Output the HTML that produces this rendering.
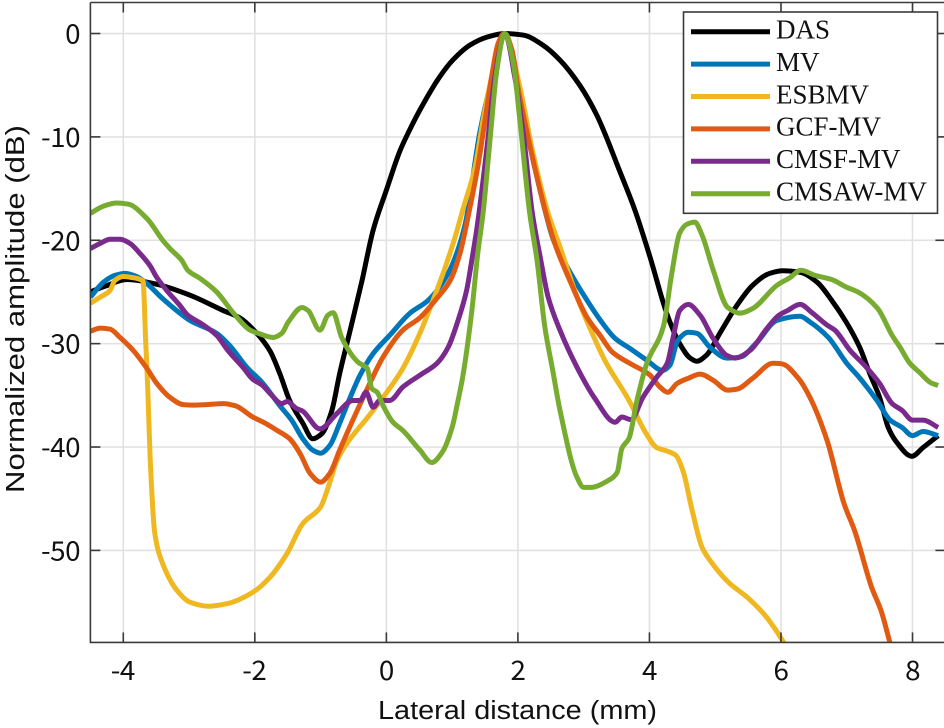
<!DOCTYPE html>
<html lang="en">
<head>
<meta charset="utf-8">
<title>Normalized amplitude vs lateral distance</title>
<style>
html,body{margin:0;padding:0;background:#fff;width:944px;height:728px;overflow:hidden}
svg{display:block}
.tick{font-family:"Noto Sans CJK JP","Liberation Sans",sans-serif;font-size:27px;letter-spacing:-0.5px;fill:#111}
.axt{font-family:"Liberation Sans",sans-serif;font-size:25.5px;fill:#111}
.leg{font-family:"Liberation Serif",serif;font-size:27px;fill:#111}
</style>
</head>
<body>
<svg id="chart" xmlns="http://www.w3.org/2000/svg" width="944" height="728" viewBox="0 0 944 728"></svg>
<script>
const xTicks = [-4, -2, 0, 2, 4, 6, 8];
const yTicks = [0, -10, -20, -30, -40, -50];
const xLabel = "Lateral distance (mm)";
const yLabel = "Normalized amplitude (dB)";
const seriesNames = ["DAS", "MV", "ESBMV", "GCF-MV", "CMSF-MV", "CMSAW-MV"];

const dasX = [-4.5,-4.28,-3.94,-3.49,-2.99,-2.48,-2.23,-1.97,-1.77,-1.62,-1.47,-1.27,-1.12,-0.98,-0.83,-0.71,-0.55,-0.37,-0.2,0,0.21,0.33,0.51,0.81,1.01,1.27,1.53,1.8,2.08,2.38,2.64,2.94,3.2,3.35,3.51,3.78,4.01,4.27,4.46,4.62,4.72,4.87,5.07,5.33,5.57,5.83,6.03,6.29,6.55,6.77,7,7.2,7.35,7.5,7.63,7.76,7.99,8.16,8.39];
const dasY = [-25,-24.45,-23.8,-24.26,-25.3,-26.8,-27.5,-29,-30.7,-32.9,-35.5,-37.7,-39.2,-38.7,-36.5,-32.9,-28.7,-23.9,-19,-15.16,-11.3,-9.64,-7.4,-4.2,-2.57,-1.12,-0.35,0,-0.15,-1.12,-2.57,-5,-7.9,-10.1,-12.7,-17.1,-21.65,-27.2,-30,-31.4,-31.7,-31.1,-29,-26.3,-24.35,-23.2,-22.95,-23.1,-24.06,-25.8,-28,-30.4,-32.9,-35.2,-38.1,-39.55,-40.9,-40.05,-38.9];

const mvX = [-4.5,-4.3,-4.13,-3.97,-3.8,-3.64,-3.41,-3.14,-2.99,-2.58,-2.38,-2.12,-1.89,-1.62,-1.44,-1.27,-1.12,-1,-0.86,-0.71,-0.55,-0.4,-0.2,0.05,0.36,0.62,0.74,0.94,1.07,1.2,1.42,1.58,1.8,2.0,2.14,2.29,2.44,2.53,2.75,3.05,3.25,3.48,3.7,3.96,4.2,4.31,4.43,4.59,4.72,4.92,5.18,5.38,5.63,5.94,6.29,6.44,6.72,7,7.2,7.46,7.66,7.84,8,8.16,8.39];
const mvY = [-25.5,-24.05,-23.4,-23.2,-23.5,-24.2,-25.6,-27.05,-27.75,-29,-30.2,-32.3,-33.75,-36,-37.4,-39.2,-40.3,-40.6,-39.85,-37.7,-35.2,-33.05,-30.95,-29.2,-27.05,-25.9,-25.1,-23.2,-21.25,-18.4,-9.6,-5,0,-5.2,-9.6,-13.9,-17.8,-19.8,-22.6,-25.8,-27.7,-29.5,-30.45,-31.6,-32.6,-32.1,-29.7,-28.9,-29,-30.35,-31.4,-31.3,-29.9,-27.75,-27.35,-27.9,-29.4,-31.9,-33.35,-35.5,-37.4,-38.1,-38.9,-38.5,-38.9];

const esbmvX = [-4.5,-4.35,-4.2,-4.13,-4,-3.87,-3.7,-3.66,-3.63,-3.59,-3.52,-3.4,-3.18,-2.99,-2.71,-2.42,-2.03,-1.77,-1.51,-1.27,-1,-0.89,-0.75,-0.6,-0.28,-0.05,0.25,0.51,0.71,0.89,1.04,1.16,1.35,1.47,1.6,1.73,1.8,2.03,2.23,2.46,2.64,2.9,3.2,3.32,3.69,3.95,4.11,4.27,4.4,4.51,4.65,4.8,4.96,5.22,5.48,5.76,5.91,6.05];
const esbmvY = [-26.1,-25.5,-24.85,-23.9,-23.5,-23.6,-23.95,-29.7,-34,-41.3,-48.4,-51.3,-53.9,-55,-55.4,-55.15,-54.05,-52.6,-50.3,-47.4,-45.8,-44,-41.3,-39.65,-37.1,-35.2,-32.4,-29,-25.8,-22.7,-19.8,-17.1,-12.9,-8.4,-4.2,-0.6,0,-5.2,-11.6,-17.4,-20.65,-25.5,-30,-31.6,-35.5,-38.7,-40.05,-40.4,-40.8,-42.3,-46.15,-49.7,-51.3,-53.2,-54.5,-56.3,-57.6,-59];

const gcfX = [-4.5,-4.35,-4.2,-4.05,-3.85,-3.64,-3.49,-3.29,-3.09,-2.94,-2.73,-2.48,-2.3,-2.03,-1.87,-1.66,-1.47,-1.31,-1.16,-1,-0.86,-0.71,-0.51,-0.3,-0.05,0.25,0.51,0.77,0.97,1.12,1.24,1.39,1.5,1.6,1.7,1.79,1.91,2,2.14,2.29,2.43,2.56,2.79,3.05,3.25,3.44,3.7,4.01,4.16,4.28,4.42,4.59,4.77,4.97,5.19,5.33,5.57,5.88,6.01,6.27,6.44,6.7,6.96,7.12,7.38,7.52,7.66];
const gcfY = [-28.8,-28.5,-28.6,-29.4,-30.65,-32.4,-33.85,-35.2,-35.9,-35.95,-35.9,-35.8,-36,-37.1,-37.6,-38.4,-39.2,-40.65,-42.55,-43.4,-42.55,-40.3,-37.4,-34.5,-31.3,-28.7,-27.5,-25.6,-23.9,-21.25,-17.8,-12.9,-8.4,-4.2,-0.95,0,-1.6,-5.2,-9.6,-13.9,-17.5,-20.3,-23.9,-27.45,-29.2,-30.85,-31.9,-33.05,-34.2,-34.7,-33.85,-33.35,-32.95,-33.55,-34.5,-34.4,-33.35,-31.9,-31.95,-33.4,-35.2,-39.35,-45.5,-48.1,-53.6,-55.8,-59];

const cmsfX = [-4.5,-4.35,-4.2,-4.05,-3.9,-3.75,-3.6,-3.49,-3.34,-3.14,-3.02,-2.83,-2.58,-2.41,-2.18,-2.03,-1.89,-1.77,-1.59,-1.51,-1.36,-1.28,-1.01,-0.75,-0.51,-0.4,-0.31,-0.2,-0.1,0.05,0.25,0.51,0.77,0.94,1.09,1.22,1.3,1.38,1.53,1.65,1.77,1.8,1.96,2.08,2.22,2.34,2.46,2.64,2.9,3.16,3.48,3.58,3.72,3.9,4.11,4.27,4.36,4.46,4.59,4.77,4.97,5.18,5.3,5.53,5.79,5.97,6.1,6.29,6.47,6.7,6.82,7.05,7.3,7.5,7.69,7.84,8,8.16,8.39];
const cmsfY = [-20.8,-20.3,-19.9,-19.9,-20.3,-21.25,-22.4,-23.6,-24.85,-26.3,-27.25,-28,-29.2,-30.65,-32.3,-33.45,-34,-34.8,-35.8,-35.6,-36.3,-36.5,-38.25,-36.75,-35.5,-35.5,-34.7,-36.15,-35.5,-35.5,-34.2,-33.05,-31.9,-30.35,-27.75,-24.85,-21.9,-18.7,-11,-4.2,-0.35,0,-4.5,-9.6,-17.4,-21.65,-25.5,-28.7,-32.3,-35.2,-37.6,-37.1,-37.35,-35.2,-33.25,-31.9,-29.4,-26.8,-26.2,-27.25,-29.5,-31.15,-31.4,-30.65,-28.5,-27.25,-26.8,-26.2,-27,-28.2,-28.7,-30.65,-32.3,-33.85,-35.8,-36.45,-37.4,-37.4,-38.1];

const cmsawX = [-4.5,-4.3,-4.1,-3.93,-3.64,-3.4,-3.29,-3.11,-3.02,-2.83,-2.58,-2.33,-2.07,-1.95,-1.72,-1.59,-1.49,-1.28,-1.19,-1.01,-0.89,-0.81,-0.68,-0.43,-0.29,-0.22,-0.14,-0.05,0.1,0.25,0.51,0.69,0.85,1,1.09,1.16,1.3,1.39,1.47,1.58,1.68,1.8,1.93,2.03,2.18,2.29,2.41,2.53,2.64,2.9,3,3.11,3.37,3.51,3.58,3.69,3.81,3.96,4.21,4.34,4.46,4.57,4.69,4.8,4.97,5.19,5.38,5.57,5.94,6.14,6.3,6.52,6.77,7,7.17,7.47,7.69,7.81,7.96,8.11,8.27,8.39];
const cmsawY = [-17.4,-16.7,-16.4,-16.5,-17.9,-20,-20.8,-21.95,-22.9,-23.7,-25,-27,-28.7,-29,-29.4,-29,-27.9,-26.5,-26.8,-28.7,-27.25,-27,-29.4,-31.8,-32.4,-34.35,-34.7,-36,-37.6,-38.4,-40.3,-41.5,-40.5,-38.1,-35.5,-33.25,-26.8,-21.25,-17.4,-10,-3.55,0,-2.9,-8.4,-17.4,-21.9,-28.4,-32.6,-36.45,-42.95,-43.9,-43.9,-43.25,-42.45,-40.15,-39.15,-35.5,-31.9,-28.4,-23.2,-19.3,-18.45,-18.25,-19.5,-22.9,-26.5,-27.05,-26.6,-24.35,-23.6,-22.9,-23.4,-23.8,-24.55,-25,-26.6,-29.2,-30.35,-31.9,-32.8,-33.75,-34.05];

const xDomain = [-4.5, 8.5];
const yDomain = [-58.9, 3];
const plotLeft = 90.4, plotRight = 945.4, plotTop = 2.5, plotBottom = 642.4;
const sx = v => plotLeft + (v - xDomain[0]) / (xDomain[1] - xDomain[0]) * (plotRight - plotLeft);
const sy = v => plotBottom - (v - yDomain[0]) / (yDomain[1] - yDomain[0]) * (plotBottom - plotTop);

const NS = "http://www.w3.org/2000/svg";
const svg = document.getElementById("chart");
function mk(tag, attrs, parent) {
  const e = document.createElementNS(NS, tag);
  for (const k in attrs) e.setAttribute(k, attrs[k]);
  (parent || svg).appendChild(e);
  return e;
}

/* monotone cubic path through screen points */
function smoothPath(px, py) {
  const n = px.length, m = [], t = new Array(n);
  for (let i = 0; i < n - 1; i++) m.push((py[i + 1] - py[i]) / (px[i + 1] - px[i]));
  t[0] = m[0];
  t[n - 1] = m[n - 2];
  for (let i = 1; i < n - 1; i++) {
    if (m[i - 1] * m[i] <= 0) { t[i] = 0; continue; }
    const h0 = px[i] - px[i - 1], h1 = px[i + 1] - px[i];
    t[i] = 3 * (h0 + h1) / ((2 * h1 + h0) / m[i - 1] + (h1 + 2 * h0) / m[i]);
  }
  let d = "M" + px[0].toFixed(2) + " " + py[0].toFixed(2);
  for (let i = 0; i < n - 1; i++) {
    const h = (px[i + 1] - px[i]) / 3;
    d += " C" + (px[i] + h).toFixed(2) + " " + (py[i] + t[i] * h).toFixed(2) + " " +
         (px[i + 1] - h).toFixed(2) + " " + (py[i + 1] - t[i + 1] * h).toFixed(2) + " " +
         px[i + 1].toFixed(2) + " " + py[i + 1].toFixed(2);
  }
  return d;
}

const defs = mk("defs", {});
const clip = mk("clipPath", {id: "plot-clip"}, defs);
mk("rect", {x: plotLeft, y: plotTop, width: plotRight - plotLeft, height: plotBottom - plotTop}, clip);

const gridColor = "#e2e2e2", axisColor = "#3a3a3a";

xTicks.forEach(t => {
  const l = mk("line", {x1: sx(t), x2: sx(t), y1: plotTop, y2: plotBottom, stroke: gridColor, "stroke-width": 1.6});
  
  
});
yTicks.forEach(t => {
  const l = mk("line", {x1: plotLeft, x2: plotRight, y1: sy(t), y2: sy(t), stroke: gridColor, "stroke-width": 1.6});
  
  
});

const seriesX = [dasX, mvX, esbmvX, gcfX, cmsfX, cmsawX];
const seriesY = [dasY, mvY, esbmvY, gcfY, cmsfY, cmsawY];
const colors = ["#000000", "#0076BA", "#EFB821", "#E05A12", "#7A2A8C", "#77AC30"];
const linesGroup = mk("g", {"clip-path": "url(#plot-clip)"});


seriesNames.forEach((name, i) => {
  const d = smoothPath(seriesX[i].map(sx), seriesY[i].map(sy));
  const p = mk("path", {d: d, fill: "none", stroke: colors[i], "stroke-width": 5, "stroke-linejoin": "round", "stroke-linecap": "butt"}, linesGroup);
  
  
});

const spine = mk("path", {d: `M${plotLeft} ${plotTop} H${plotRight} M${plotLeft} ${plotTop} V${plotBottom} H${plotRight}`, fill: "none", stroke: axisColor, "stroke-width": 1.6});



const tickStretch = 1.03;
xTicks.forEach(t => {
  const a = mk("line", {x1: sx(t), x2: sx(t), y1: plotBottom, y2: plotBottom - 10, stroke: axisColor, "stroke-width": 1.6});
  
  
  const b = mk("line", {x1: sx(t), x2: sx(t), y1: plotTop, y2: plotTop + 10, stroke: axisColor, "stroke-width": 1.6});
  
  
  const label = mk("text", {transform: `translate(${sx(t) - (t < 0 ? 0.5 : 0)} 680) scale(${tickStretch} 1)`, "text-anchor": "middle", class: "tick"});
  label.textContent = String(t);
  
  
});
yTicks.forEach(t => {
  const a = mk("line", {x1: plotLeft, x2: plotLeft + 10, y1: sy(t), y2: sy(t), stroke: axisColor, "stroke-width": 1.6});
  
  
  const b = mk("line", {x1: plotRight - 10, x2: plotRight, y1: sy(t), y2: sy(t), stroke: axisColor, "stroke-width": 1.6});
  
  
  const label = mk("text", {transform: `translate(80 ${sy(t) + 10}) scale(${tickStretch} 1)`, "text-anchor": "end", class: "tick"});
  label.textContent = String(t);
  
  
});

const xTitle = mk("text", {x: 517.5, y: 719, "text-anchor": "middle", class: "axt", textLength: 279, lengthAdjust: "spacingAndGlyphs"});
xTitle.textContent = xLabel;



const yTitle = mk("text", {x: 0, y: 0, transform: "translate(24 309) rotate(-90)", "text-anchor": "middle", class: "axt", textLength: 368, lengthAdjust: "spacingAndGlyphs"});
yTitle.textContent = yLabel;



const legend = mk("g", {});


const legendBox = mk("rect", {x: 683.5, y: 12, width: 254, height: 201.3, fill: "#fff", stroke: axisColor, "stroke-width": 1.6}, legend);


seriesNames.forEach((name, i) => {
  const rowY = 31.7 + i * 32.4;
  const s = mk("line", {x1: 691, x2: 770, y1: rowY, y2: rowY, stroke: colors[i], "stroke-width": 5}, legend);
  
  
  const t = mk("text", {x: 776, y: rowY + 6.8, class: "leg"}, legend);
  t.textContent = name;
  
  
});
</script>
</body>
</html>
